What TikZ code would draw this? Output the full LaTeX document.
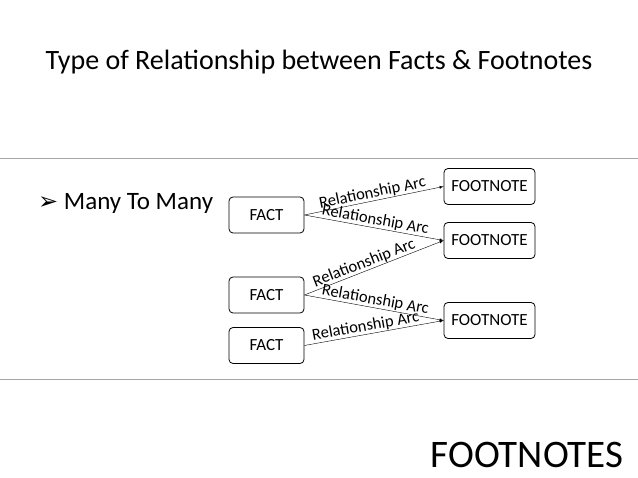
\documentclass[tikz,border=0pt]{standalone}
\usepackage{fontspec}
\setmainfont{Carlito}
\newfontfamily\symf{DejaVu Sans}
\begin{document}
\begin{tikzpicture}[x=1pt,y=-1pt,
  box/.style={draw,thick,rounded corners=4pt,minimum height=36pt,font=\fontsize{17}{19}\selectfont},
  arc/.style={-latex},
  lab/.style={sloped,above,midway,inner sep=0.5pt,font=\fontsize{16.5}{18}\selectfont}]
\useasboundingbox (0,0) rectangle (638,478);
\node (title) at (319,62) {\fontsize{28}{32}\selectfont Type of Relationship between Facts \& Footnotes};
\draw[gray!70] (0,158) -- (638,158);
\draw[gray!70] (0,379) -- (638,379);
\node[anchor=west,inner sep=0pt] (mm) at (38,203) {\fontsize{25}{28}\selectfont{\symf\fontsize{24}{26}\selectfont ➢} Many To Many};
\node[box,minimum width=75pt] (f1) at (266.5,215) {FACT};
\node[box,minimum width=75pt] (f2) at (266.5,295) {FACT};
\node[box,minimum width=75pt] (f3) at (266.5,345.5) {FACT};
\node[box,minimum width=91pt] (n1) at (489.5,186.5) {FOOTNOTE};
\node[box,minimum width=91pt] (n2) at (489.5,240.5) {FOOTNOTE};
\node[box,minimum width=91pt] (n3) at (489.5,320.5) {FOOTNOTE};
\draw[arc] (f1.east) -- node[lab]{Relationship Arc} (n1.west);
\draw[arc] (f1.east) -- node[lab]{Relationship Arc} (n2.west);
\draw[arc] (f2.east) -- node[lab,pos=0.45]{Relationship Arc} (n2.west);
\draw[arc] (f2.east) -- node[lab]{Relationship Arc} (n3.west);
\draw[arc] (f3.east) -- node[lab,pos=0.45]{Relationship Arc} (n3.west);
\node (fn) at (527,455) {\fontsize{39}{44}\selectfont FOOTNOTES};
\end{tikzpicture}
\end{document}
